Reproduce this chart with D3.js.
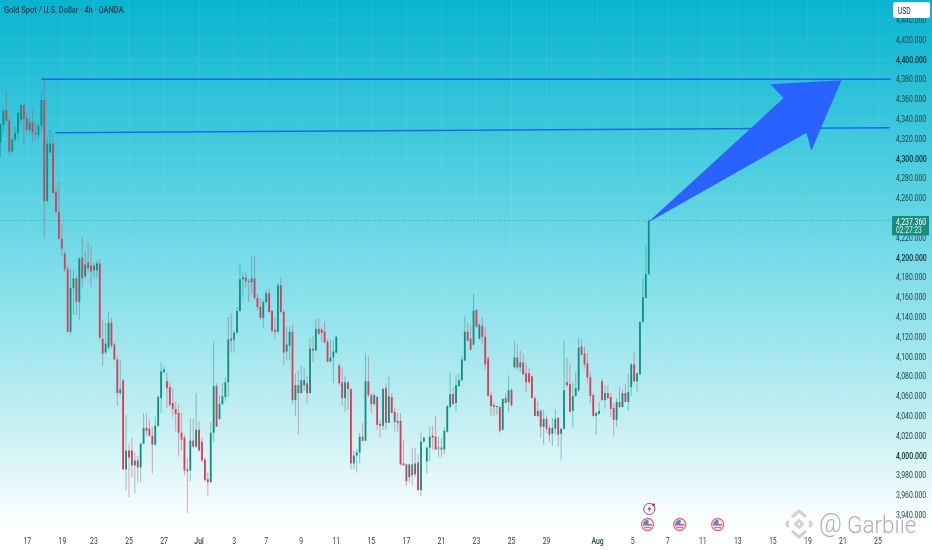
<!DOCTYPE html>
<html><head><meta charset="utf-8">
<script src="https://cdn.jsdelivr.net/npm/d3@7/dist/d3.min.js"></script>
<style>html,body{margin:0;padding:0;background:#fff}svg{display:block;filter:blur(.3px)}text{font-family:Roboto,sans-serif}</style>
</head><body><div id="c"></div>
<script>
const highs=[4336,4351,4369,4341,4321,4332,4347,4355,4355,4346,4341,4349,4336,4334,4366,4382,4322,4329,4324,4271,4276,4234,4207,4192,4189,4187,4182,4200,4221,4207,4215,4211,4195,4197,4199,4137,4134,4145,4139,4114,4101,4097,4078,4041,4012,4018,4003,4000,4013,4043,4043,4036,4029,4039,4061,4094,4090,4084,4074,4068,4055,4052,4043,4021,3997,4038,4037,4063,4034,4018,3998,3983,4034,4115,4073,4061,4073,4079,4140,4144,4126,4150,4194,4185,4185,4179,4201,4202,4164,4159,4157,4167,4168,4147,4139,4174,4180,4147,4130,4130,4132,4083,4086,4091,4089,4081,4119,4120,4138,4138,4129,4135,4117,4117,4117,4121,4093,4089,4080,4075,4068,4005,4007,4023,4033,4103,4100,4063,4063,4061,4036,4069,4073,4080,4063,4049,4043,4043,4015,3992,3992,4008,4008,4001,4023,4019,4009,4029,4030,4040,4019,4018,4028,4051,4084,4069,4082,4083,4101,4141,4134,4133,4164,4148,4134,4140,4130,4100,4065,4054,4050,4050,4058,4063,4081,4068,4116,4112,4106,4103,4093,4088,4081,4060,4055,4047,4046,4041,4031,4038,4047,4039,4028,4116,4099,4092,4074,4085,4119,4117,4110,4103,4084,4063,4044,4054,4078,4071,4071,4063,4053,4058,4069,4066,4073,4083,4093,4105,4084,4135,4179,4212,4240];
const lows=[4301,4327,4337,4305,4305,4316,4319,4334,4315,4326,4327,4317,4319,4319,4326,4219,4256,4306,4265,4245,4218,4201,4185,4124,4122,4142,4142,4137,4170,4179,4185,4170,4179,4179,4117,4090,4102,4106,4108,4096,4050,4061,3986,3965,3958,3978,3962,3972,3973,4011,4020,4019,3982,4010,4029,4043,4083,4048,4049,4039,4024,3999,4005,3980,3942,3974,4008,4008,4004,3993,3974,3959,3972,4013,4029,4036,4051,4055,4059,4104,4104,4123,4145,4160,4169,4155,4164,4157,4147,4137,4129,4154,4144,4124,4118,4124,4144,4091,4096,4096,4052,4040,4021,4063,4066,4053,4063,4094,4106,4122,4115,4114,4094,4094,4073,4103,4071,4050,4044,4046,3986,3986,3983,3992,4014,4014,4059,4043,4050,4026,4018,4026,4026,4033,4043,4024,4024,3990,3990,3969,3973,3970,3978,3964,3959,4013,3982,3994,4006,4006,3998,3998,4001,4023,4048,4051,4044,4070,4075,4095,4115,4106,4111,4129,4117,4112,4087,4060,4040,4040,4041,4023,4025,4053,4044,4049,4088,4086,4084,4081,4064,4073,4058,4040,4039,4018,4011,4023,4014,4010,4021,4009,3995,4026,4069,4044,4028,4059,4064,4101,4089,4073,4053,4039,4021,4041,4055,4047,4056,4039,4019,4029,4048,4048,4054,4045,4060,4074,4064,4082,4134,4159,4183];
const opens=[4316,4334,4349,4338,4307,4319,4326,4339,4354,4341,4329,4336,4326,4324,4333,4359,4257,4306,4315,4266,4246,4219,4204,4188,4125,4169,4179,4155,4200,4181,4195,4192,4187,4187,4194,4118,4104,4109,4134,4112,4097,4063,4076,3986,4005,4005,3990,3995,3988,4012,4028,4027,4020,4011,4030,4058,4084,4075,4069,4053,4047,4043,4023,4018,3986,3985,4015,4009,4026,4014,3996,3976,3973,4023,4070,4037,4052,4059,4074,4118,4117,4124,4146,4178,4180,4176,4175,4179,4159,4150,4139,4155,4164,4146,4127,4125,4172,4145,4105,4111,4125,4056,4071,4063,4071,4073,4063,4108,4106,4128,4127,4125,4115,4095,4099,4104,4091,4074,4058,4074,4067,3992,4000,4003,4019,4015,4075,4061,4052,4059,4032,4030,4068,4033,4059,4044,4033,4035,3992,3991,3978,3991,3981,3993,3965,4014,3994,4008,4020,4019,4007,4008,4006,4024,4049,4062,4053,4070,4076,4096,4125,4118,4112,4147,4118,4131,4120,4098,4061,4051,4049,4049,4026,4058,4054,4066,4089,4099,4089,4094,4083,4083,4080,4058,4040,4045,4029,4037,4028,4022,4027,4038,4022,4027,4074,4072,4045,4060,4066,4110,4103,4093,4079,4061,4040,4042,4075,4056,4063,4059,4048,4036,4054,4049,4063,4054,4069,4092,4075,4082,4135,4159,4183];
const closes=[4334,4348,4338,4307,4319,4326,4346,4354,4340,4329,4336,4326,4324,4333,4359,4257,4315,4315,4265,4246,4219,4209,4188,4125,4169,4179,4155,4199,4179,4193,4189,4186,4192,4194,4119,4103,4113,4134,4111,4097,4063,4067,3986,4005,3998,3990,3995,3988,4012,4028,4025,4020,4011,4030,4059,4085,4087,4068,4051,4047,4042,4023,4016,3985,3984,4015,4009,4026,4005,3995,3975,3973,4023,4070,4029,4052,4060,4074,4117,4116,4124,4146,4178,4180,4176,4175,4179,4159,4150,4139,4155,4164,4145,4126,4125,4172,4145,4104,4112,4125,4056,4071,4063,4076,4076,4063,4108,4106,4128,4123,4124,4114,4095,4099,4105,4120,4073,4058,4074,4067,3992,4000,4003,4019,4015,4075,4061,4052,4061,4031,4030,4067,4033,4060,4043,4034,4035,3991,3990,3974,3991,3980,3992,3965,4014,4018,4008,4019,4018,4006,4008,4006,4025,4050,4062,4052,4071,4076,4097,4125,4116,4107,4146,4130,4132,4120,4092,4060,4050,4049,4050,4025,4057,4053,4066,4051,4099,4089,4094,4082,4074,4074,4058,4040,4045,4029,4037,4027,4021,4028,4037,4021,4027,4066,4071,4044,4060,4068,4109,4102,4092,4079,4060,4040,4043,4045,4056,4063,4058,4047,4036,4054,4049,4063,4054,4064,4092,4075,4083,4135,4160,4183,4237];
const priceTicks=[4440,4420,4400,4380,4360,4340,4320,4300,4280,4260,4220,4200,4180,4160,4140,4120,4100,4080,4060,4040,4020,4000,3980,3960,3940];
const boldTicks=[4400,4300,4200,4000];
const dateLabels=["17","19","23","25","27","Jul","3","7","9","11","15","17","21","23","25","29","Aug","5","7","11","13","15","19","21","25"];
const dateIndex=[9.2,21.2,32,44,56,68,80,91,103,115,127,139,151,163,175,187,204.5,216.5,228.5,240.5,252.5,264.5,276.5,288.5,300.5];
const boldDates=["Jul","Aug"];
const lastPrice=4237.36;
const lastPriceText="4,237.360";
const countdown="02:27:23";
const titleText="Gold Spot / U.S. Dollar · 4h · OANDA";
const levelIdx=[[14,305],[18.8,304.5]];
const levelPrice=[[4380,4380],[4326,4331]];
const arrowIdx=[221.6,268.2,263.7,288,277.7,276];
const arrowPrice=[4235,4361,4375,4379,4308,4326];
const eventIdx=[222.2];
const flagIdx=[221.6,232.6,245.6];

const W=932,H=550,plotR=890;
const x=d3.scaleLinear().domain([0,300]).range([0.5,876.5]);
const y=d3.scaleLinear().domain([4420,3940]).range([39.7,514.9]);
const at=(px,py,s)=>`translate(${px},${py}) scale(${s},1)`;
const svg=d3.select("#c").append("svg").attr("width",W).attr("height",H);
const defs=svg.append("defs");
const g=defs.append("linearGradient").attr("id","bg").attr("x1",0).attr("x2",0).attr("y1",0).attr("y2",1);
[[0,"#08b4d0"],[.25,"#3fc9dd"],[.5,"#7fdee9"],[.75,"#c0eef2"],[.96,"#ffffff"]].forEach(s=>g.append("stop").attr("offset",s[0]).attr("stop-color",s[1]));
svg.append("rect").attr("width",W).attr("height",H).attr("fill","url(#bg)");

svg.append("g").selectAll("line").data(priceTicks).join("line")
 .attr("x1",0).attr("x2",plotR).attr("y1",d=>y(d)).attr("y2",d=>y(d)).attr("stroke","#fff").attr("stroke-opacity",.07);
svg.append("g").selectAll("line").data(dateIndex).join("line")
 .attr("x1",d=>x(d)).attr("x2",d=>x(d)).attr("y1",0).attr("y2",530).attr("stroke","#fff").attr("stroke-opacity",.07);

svg.append("line").attr("x1",0).attr("x2",plotR).attr("y1",y(lastPrice)).attr("y2",y(lastPrice))
 .attr("stroke","#1a8c7c").attr("stroke-width",.8).attr("stroke-dasharray","1 2").attr("stroke-opacity",.7);

const GREEN="#0f8f80",RED="#dc3a55";
const idx=d3.range(closes.length);
const col=i=>closes[i]>=opens[i]?GREEN:RED;
svg.append("g").selectAll("line").data(idx).join("line")
 .attr("x1",i=>x(i)).attr("x2",i=>x(i)).attr("y1",i=>y(highs[i])).attr("y2",i=>y(lows[i]))
 .attr("stroke",col).attr("stroke-width",.9).attr("stroke-opacity",.5);
svg.append("g").selectAll("rect").data(idx).join("rect")
 .attr("x",i=>x(i)-.9).attr("width",1.8)
 .attr("y",i=>Math.min(y(opens[i]),y(closes[i])))
 .attr("height",i=>Math.max(1,Math.abs(y(opens[i])-y(closes[i]))))
 .attr("fill",col);

const lineGen=d3.line();
levelIdx.forEach((xs,k)=>{
 svg.append("path").attr("d",lineGen(xs.map((v,j)=>[x(v),y(levelPrice[k][j])])))
  .attr("fill","none").attr("stroke","#1d68ee").attr("stroke-width",1.5);
});
svg.append("path").attr("d",lineGen(arrowIdx.map((v,j)=>[x(v),y(arrowPrice[j])]))+"Z").attr("fill","#2962ff");

// axis labels
svg.append("g").selectAll("text").data(priceTicks).join("text")
 .attr("transform",d=>at(896,y(d)+3,.8)).attr("font-size",8.6)
 .attr("font-weight",d=>boldTicks.includes(d)?500:400)
 .attr("fill",d=>boldTicks.includes(d)?"#0e2a30":"#24434a")
 .text(d=>d3.format(",.3f")(d));
svg.append("g").selectAll("text").data(dateLabels).join("text")
 .attr("transform",(d,i)=>at(x(dateIndex[i]),544,.8)).attr("text-anchor","middle").attr("font-size",8.6)
 .attr("font-weight",d=>boldDates.includes(d)?500:400).attr("fill","#24434a").text(d=>d);

svg.append("text").attr("transform",at(4,13,.86)).attr("font-size",8.7).attr("font-weight",500).attr("fill","#17404c").text(titleText);

// USD box
svg.append("rect").attr("x",893).attr("y",2).attr("width",37).attr("height",16).attr("rx",2.5).attr("fill","#fff");
svg.append("text").attr("transform",at(898,14,.8)).attr("font-size",8.4).attr("fill","#1b2a30").text("USD");

// last price tag
svg.append("rect").attr("x",892).attr("y",216).attr("width",37).attr("height",19.5).attr("rx",1).attr("fill","#1a8c7c");
svg.append("text").attr("transform",at(896,224.5,.8)).attr("font-size",8.6).attr("fill","#fff").text(lastPriceText);
svg.append("text").attr("transform",at(896,233,.8)).attr("font-size",8.4).attr("fill","#d5f0ea").text(countdown);

// event icons
eventIdx.forEach(i=>{
 const c=svg.append("g").attr("transform",`translate(${x(i)},509)`);
 c.append("circle").attr("r",5.6).attr("fill","#eef9fa").attr("stroke","#7a4a5e").attr("stroke-width",.9);
 c.append("path").attr("d","M1,-3.4 L-2,0.6 L0,0.6 L-1,3.4 L2,-0.8 L0,-0.8Z").attr("fill","#b8324c");
 c.append("circle").attr("cx",4.2).attr("cy",-4.2).attr("r",1.5).attr("fill","#e0263f");
});
flagIdx.forEach(i=>{
 const c=svg.append("g").attr("transform",`translate(${x(i)},524.5)`);
 c.append("circle").attr("r",6).attr("fill","#fff").attr("stroke","#e56a7c").attr("stroke-width",1.3);
 c.append("path").attr("d","M-4.6,-0.6 A4.8,4.8 0 0 1 1,-4.6 L1,-0.6Z").attr("fill","#2f9bd6");
 c.append("rect").attr("x",-4.6).attr("y",-0.4).attr("width",9.2).attr("height",1.5).attr("fill","#e0485f");
 c.append("rect").attr("x",-3.6).attr("y",2.4).attr("width",7.2).attr("height",1.3).attr("fill","#e56a7c");
});

// watermark
const wm=svg.append("g");
const logo=wm.append("g").attr("transform","translate(799,524)").attr("fill","none").attr("stroke","#d4d0d5").attr("stroke-width",3);
logo.append("path").attr("d","M-7,-7 L0,-13 L7,-7");
logo.append("path").attr("d","M-7,7 L0,13 L7,7");
logo.append("path").attr("d","M-13,0 L-10,-3 M13,0 L10,-3 M-13,0 L-10,3 M13,0 L10,3");
logo.append("path").attr("d","M-3.5,0 L0,-3.5 L3.5,0 L0,3.5Z");
wm.append("text").attr("x",819).attr("y",532).attr("font-size",25).attr("font-family","Lato,sans-serif").attr("font-weight",300).attr("fill","#b5aeb6").text("@");
wm.append("text").attr("transform",at(847,533,.98)).attr("font-size",23).attr("font-family","Lato,sans-serif").attr("font-weight",300).attr("fill","#b5aeb6").text("Garbiie");
</script></body></html>
